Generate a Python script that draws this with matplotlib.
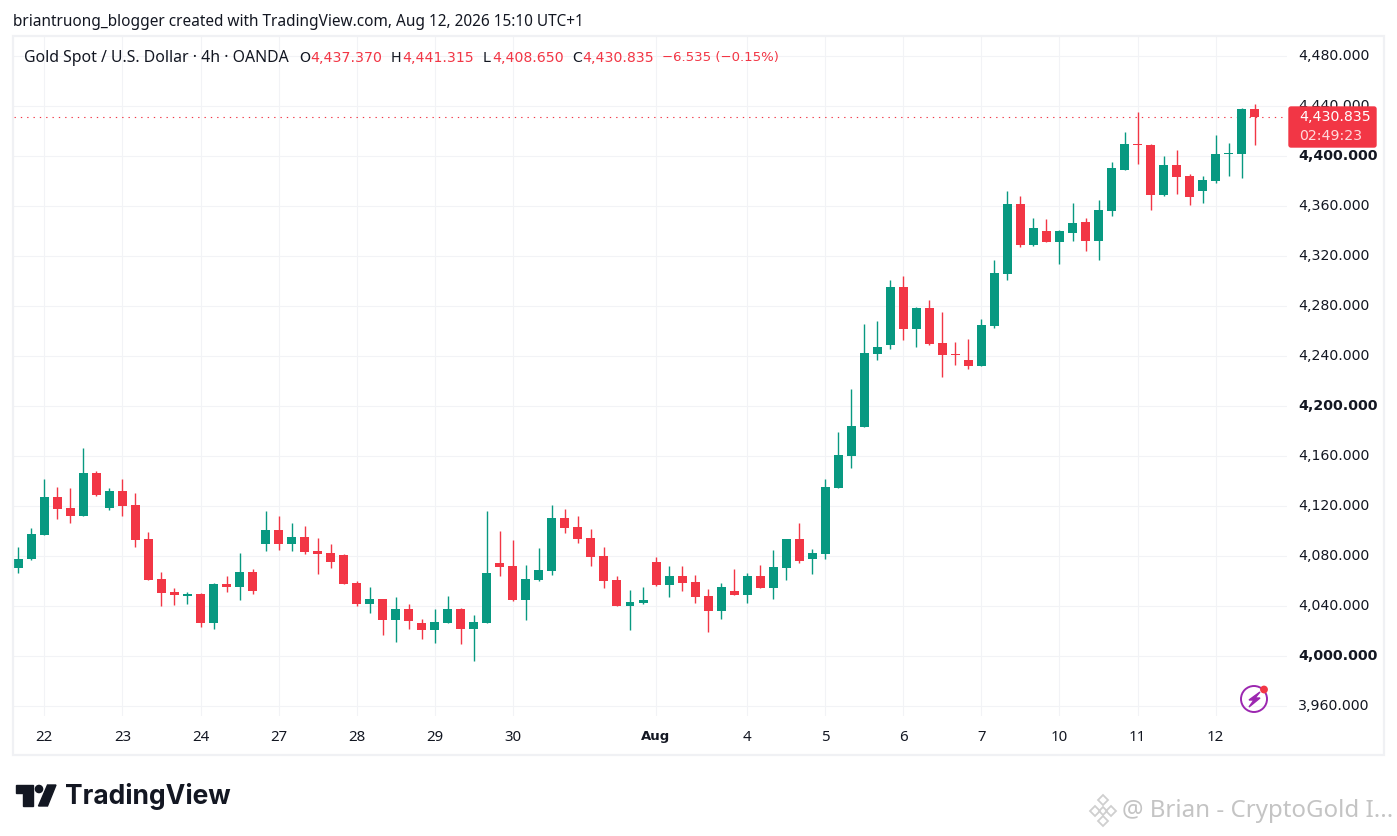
import matplotlib
matplotlib.use("Agg")
import matplotlib.pyplot as plt
from matplotlib.patches import Rectangle, Polygon, Circle, FancyBboxPatch

plt.rcParams['font.family'] = ['Noto Sans', 'DejaVu Sans']

UP = "#089981"
DOWN = "#F23645"
GRID = "#F2F3F6"
TEXT = "#131722"
NUM = ["DejaVu Sans"]

opens = [4070.4, 4077.6, 4096.8, 4127.2, 4118.4, 4112.0, 4146.4, 4118.4, 4132.0, 4120.8, 4093.6, 4061.6,
         4051.2, 4048.0, 4049.6, 4026.4, 4057.6, 4055.2, 4067.2, 4089.6, 4100.8, 4089.6, 4095.2, 4084.0,
         4082.4, 4080.8, 4058.4, 4041.6, 4045.6, 4028.8, 4037.6, 4026.4, 4020.8, 4026.4, 4037.6, 4021.6,
         4026.4, 4074.4, 4072.0, 4044.8, 4060.8, 4068.0, 4110.4, 4103.2, 4094.4, 4080.0, 4060.8, 4040.0,
         4042.4, 4075.2, 4056.8, 4064.0, 4059.2, 4048.0, 4036.0, 4052.0, 4048.8, 4064.0, 4054.4, 4070.4,
         4093.6, 4077.6, 4081.6, 4134.4, 4160.0, 4183.2, 4241.6, 4248.8, 4295.2, 4261.6, 4278.4, 4250.4,
         4241.6, 4236.8, 4232.0, 4264.0, 4305.6, 4361.6, 4328.8, 4340.0, 4331.2, 4338.4, 4347.2, 4332.0,
         4356.0, 4388.8, 4409.6, 4408.8, 4368.8, 4392.8, 4384.0, 4372.0, 4380.0, 4401.9, 4401.6, 4437.37]
highs = [4087.2, 4102.4, 4141.6, 4135.2, 4134.4, 4166.4, 4148.0, 4134.4, 4141.6, 4130.4, 4099.2, 4067.2,
         4054.4, 4051.2, 4050.4, 4058.4, 4064.0, 4082.4, 4069.6, 4116.0, 4112.0, 4106.4, 4104.0, 4094.4,
         4089.6, 4081.6, 4060.0, 4055.2, 4045.6, 4047.2, 4041.6, 4029.6, 4037.6, 4048.0, 4038.4, 4032.8,
         4116.0, 4100.0, 4092.8, 4072.8, 4086.4, 4120.8, 4117.6, 4112.0, 4101.6, 4087.2, 4064.0, 4052.8,
         4055.2, 4079.2, 4072.0, 4072.0, 4064.8, 4053.6, 4058.4, 4069.6, 4066.4, 4072.8, 4084.8, 4093.6,
         4106.4, 4085.6, 4141.6, 4179.2, 4213.6, 4265.6, 4268.0, 4300.8, 4304.0, 4279.2, 4284.8, 4275.2,
         4251.2, 4253.6, 4269.6, 4316.8, 4372.0, 4368.0, 4350.4, 4349.6, 4340.8, 4362.4, 4350.4, 4364.8,
         4395.2, 4419.2, 4435.2, 4409.6, 4400.0, 4404.8, 4385.6, 4384.0, 4416.8, 4410.4, 4438.4, 4441.315]
lows = [4066.4, 4076.8, 4096.8, 4109.6, 4106.4, 4112.0, 4128.0, 4116.8, 4112.0, 4087.2, 4060.8, 4040.0,
        4040.8, 4041.6, 4023.2, 4021.6, 4051.2, 4044.8, 4049.6, 4084.0, 4084.8, 4084.0, 4081.6, 4065.6,
        4070.4, 4057.6, 4040.0, 4034.4, 4016.8, 4011.2, 4021.6, 4013.6, 4010.4, 4026.4, 4009.6, 3996.0,
        4026.4, 4064.0, 4044.0, 4028.8, 4060.0, 4064.8, 4098.4, 4090.4, 4072.0, 4054.4, 4040.0, 4020.8,
        4041.6, 4056.0, 4047.2, 4052.0, 4042.4, 4019.2, 4029.6, 4048.8, 4042.4, 4054.4, 4045.6, 4060.8,
        4074.4, 4065.6, 4077.6, 4134.4, 4150.4, 4183.2, 4236.8, 4245.6, 4252.8, 4247.2, 4248.8, 4223.2,
        4232.8, 4229.6, 4232.0, 4262.4, 4300.8, 4327.2, 4328.0, 4331.2, 4313.6, 4332.0, 4324.0, 4316.8,
        4352.0, 4388.8, 4393.6, 4356.8, 4368.0, 4369.6, 4360.8, 4362.4, 4378.4, 4384.0, 4382.4, 4408.65]
closes = [4077.6, 4097.6, 4127.2, 4117.6, 4112.0, 4146.4, 4128.8, 4132.0, 4120.0, 4092.8, 4060.8, 4050.4,
          4048.8, 4049.6, 4026.4, 4057.6, 4055.2, 4067.2, 4052.0, 4100.8, 4089.6, 4095.2, 4083.2, 4081.6,
          4075.2, 4057.6, 4041.6, 4045.6, 4028.8, 4037.6, 4028.0, 4020.8, 4027.2, 4037.6, 4021.6, 4027.2,
          4066.4, 4071.2, 4044.8, 4061.6, 4068.8, 4110.4, 4102.4, 4093.6, 4079.2, 4060.0, 4040.0, 4043.2,
          4044.8, 4056.8, 4064.0, 4058.4, 4047.2, 4036.0, 4055.2, 4048.8, 4064.0, 4054.4, 4071.2, 4093.6,
          4076.0, 4082.4, 4135.2, 4160.8, 4184.0, 4242.4, 4247.2, 4295.2, 4261.6, 4278.4, 4249.6, 4240.8,
          4240.8, 4232.0, 4264.8, 4306.4, 4361.6, 4328.8, 4342.4, 4331.2, 4340.0, 4346.4, 4332.0, 4356.8,
          4390.4, 4409.6, 4408.8, 4368.8, 4392.8, 4383.2, 4367.2, 4380.8, 4401.6, 4402.4, 4437.6, 4430.835]

price_ticks = [3960, 4000, 4040, 4080, 4120, 4160, 4200, 4240, 4280, 4320, 4360, 4400, 4440, 4480]
day_pos = [2, 8, 14, 20, 26, 32, 38, 49, 56, 62, 68, 74, 80, 86, 92]
day_labels = ["22", "23", "24", "27", "28", "29", "30", "Aug", "4", "5", "6", "7", "10", "11", "12"]

W, H = 1397, 836
fig = plt.figure(figsize=(W / 100, H / 100), dpi=100, facecolor="white")

# chart pane, price and day labels hang off it
ax = fig.add_axes([14 / W, 1 - 716 / H, (1287 - 14) / W, (716 - 37) / H])
ax.set_xlim(-0.33, 97.48)
ax.set_ylim(3952, 4495.2)
ax.set_facecolor("white")
for s in ax.spines.values():
    s.set_visible(False)
ax.grid(True, color=GRID, linewidth=0.8, zorder=0)
ax.set_axisbelow(True)

ax.yaxis.tick_right()
ax.set_yticks(price_ticks)
ax.set_yticklabels([f"{p:,.3f}" for p in price_ticks], fontsize=10.2, color=TEXT, family=NUM, va="center")
for lab, p in zip(ax.get_yticklabels(), price_ticks):
    if p % 200 == 0:
        lab.set_fontweight("bold")
ax.set_xticks(day_pos)
ax.set_xticklabels(day_labels, fontsize=10.8, color=TEXT)
aug = ax.get_xticklabels()[7]
aug.set_fontfamily(NUM)
aug.set_fontweight("bold")
aug.set_fontsize(9.5)
ax.tick_params(axis="y", length=0, pad=8)
ax.tick_params(axis="x", length=0, pad=10)

for i in range(len(opens)):
    col = UP if closes[i] >= opens[i] else DOWN
    ax.vlines(i, lows[i], highs[i], color=col, linewidth=1.0, zorder=3, snap=True)
    ax.bar(i, abs(closes[i] - opens[i]), bottom=min(opens[i], closes[i]), width=0.69,
           color=col, linewidth=0, zorder=4)

ax.axhline(closes[-1], color=DOWN, linewidth=0.8, linestyle=(0, (1.2, 4.5)), zorder=2)

# overlay in pixels for frame, header, logo, price tag
ov = fig.add_axes([0, 0, 1, 1], facecolor="none")
ov.set_xlim(0, W)
ov.set_ylim(H, 0)
ov.axis("off")

ov.add_patch(Rectangle((12.5, 36), 1371.5, 719, fill=False, edgecolor="#F0F1F4", linewidth=1.6))

ov.text(13, 22, "briantruong_blogger created with TradingView.com, Aug 12, 2026 15:10 UTC+1",
        fontsize=11.07, color=TEXT, va="center")
ov.text(24, 58, "Gold Spot / U.S. Dollar · 4h · OANDA", fontsize=11.4, color=TEXT, va="center")
legend_parts = [(299, "O", TEXT), (310, "4,437.370", DOWN), (391, "H", TEXT), (402, "4,441.315", DOWN),
                (483, "L", TEXT), (492, "4,408.650", DOWN), (572, "C", TEXT), (582, "4,430.835", DOWN),
                (662, "−6.535 (−0.15%)", DOWN)]
for x, s, c in legend_parts:
    ov.text(x, 57.5, s, fontsize=9.55 if s.startswith("−") else 10.2, color=c, va="center", family=NUM)

ov.add_patch(FancyBboxPatch((1289, 107), 87, 40, boxstyle="round,pad=0,rounding_size=2",
                            facecolor=DOWN, edgecolor=DOWN, linewidth=1, zorder=5))
ov.text(1299, 117, "4,430.835", fontsize=10.2, color="white", va="center", zorder=6, family=NUM)
ov.text(1299, 136, "02:49:23", fontsize=10.2, color="#FFD9DC", va="center", zorder=6, family=NUM)

# TradingView logo
ov.add_patch(Polygon([(16, 785), (33, 785), (33, 806), (23, 806), (23, 793), (16, 793)], color="#131722"))
ov.add_patch(Circle((39, 789), 3.6, color="#131722"))
ov.add_patch(Polygon([(47.5, 785), (56, 785), (47.5, 806), (38.5, 806)], color="#131722"))
ov.text(65, 797, "TradingView", fontsize=19, fontweight="bold", family=["Inter", "DejaVu Sans"],
        color="#131722", va="center")

# lightning badge
ov.add_patch(Circle((1254, 699), 13, fill=False, edgecolor="#9C27B0", linewidth=1.4))
ov.add_patch(Polygon([(1260, 692), (1249, 700), (1254, 700), (1249, 707), (1260, 698), (1255, 698)],
                     color="#9C27B0"))
ov.add_patch(Circle((1264, 689.5), 3.2, color=DOWN))

# watermark
for cx, cy, r in [(1103, 800, 5), (1095, 811, 5), (1111, 811, 5), (1103, 821, 5), (1103, 811, 4)]:
    ov.add_patch(Polygon([(cx - r, cy), (cx, cy - r), (cx + r, cy), (cx, cy + r)], fill=False,
                         edgecolor="#CFCFCF", linewidth=1.3))
ov.text(1122, 811, "@ Brian - CryptoGold I...", fontsize=17.3, color="#C4C4C4", va="center")

fig.savefig("out.png", dpi=100)
